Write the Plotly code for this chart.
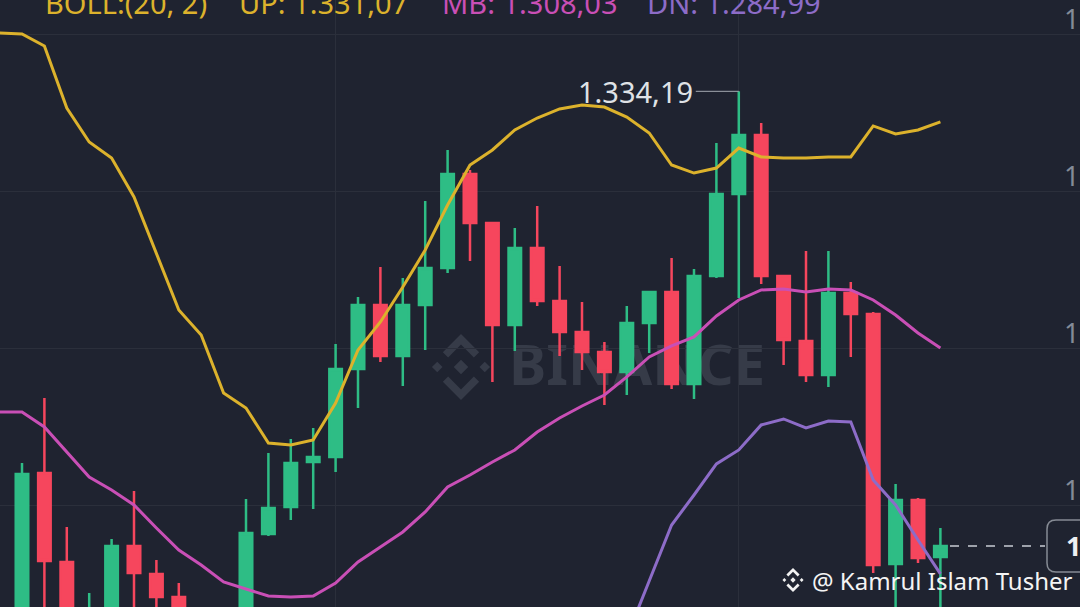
import plotly.graph_objects as go

W, H = 1080, 607

# ---------------- data ----------------
candle_idx = list(range(42))
opens = [1279.79, 1295.28, 1286.21, 1278.26, 1279.28, 1287.84, 1284.99, 1282.64, 1280.81, 1277.75,
         1280.30, 1289.06, 1291.82, 1296.40, 1296.91, 1305.88, 1312.41, 1307.21, 1312.41, 1316.18,
         1325.76, 1320.77, 1310.37, 1318.22, 1312.82, 1309.66, 1307.62, 1305.58, 1310.57, 1313.73,
         1304.36, 1315.36, 1323.72, 1329.74, 1315.36, 1308.74, 1305.27, 1313.63, 1311.49, 1286.01,
         1292.53, 1286.72]
highs = [1296.30, 1302.93, 1289.78, 1283.05, 1288.55, 1293.45, 1286.41, 1284.07, 1281.32, 1279.79,
         1292.63, 1297.32, 1298.75, 1299.87, 1308.43, 1313.22, 1316.28, 1315.16, 1323.01, 1328.21,
         1326.17, 1320.87, 1320.26, 1322.50, 1316.38, 1312.71, 1308.64, 1312.31, 1313.84, 1317.20,
         1316.08, 1328.92, 1334.19, 1330.96, 1315.36, 1317.91, 1317.91, 1314.75, 1311.69, 1294.16,
         1292.73, 1289.68]
lows = [1278.26, 1279.28, 1278.26, 1277.24, 1278.26, 1279.79, 1280.30, 1278.26, 1277.24, 1276.22,
        1279.28, 1288.86, 1290.49, 1291.61, 1295.38, 1301.91, 1306.60, 1304.15, 1307.82, 1315.67,
        1316.89, 1304.56, 1307.72, 1312.31, 1307.21, 1305.78, 1302.21, 1303.23, 1307.52, 1303.85,
        1302.83, 1315.16, 1313.12, 1314.55, 1306.29, 1304.56, 1304.05, 1307.11, 1285.09, 1279.28,
        1286.11, 1279.79]
closes = [1295.18, 1286.31, 1280.30, 1281.11, 1287.84, 1285.09, 1282.64, 1280.81, 1278.26, 1279.28,
          1289.17, 1291.71, 1296.30, 1296.91, 1305.88, 1312.41, 1307.21, 1312.41, 1316.18, 1325.76,
          1320.77, 1310.37, 1318.22, 1312.82, 1309.66, 1307.62, 1305.58, 1310.57, 1313.73, 1304.36,
          1315.36, 1323.72, 1329.74, 1315.36, 1308.84, 1305.27, 1313.63, 1311.49, 1285.90, 1292.53,
          1286.62, 1287.84]

band_idx = list(range(-1, 42))
boll_upper = [1340.14, 1340.03, 1338.81, 1332.49, 1329.02, 1327.39, 1323.42, 1317.71, 1311.90, 1309.35,
              1303.44, 1301.91, 1298.34, 1298.14, 1298.65, 1302.42, 1307.82, 1310.68, 1314.24, 1318.01,
              1322.60, 1326.68, 1328.21, 1330.25, 1331.47, 1332.39, 1332.80, 1332.59, 1331.57, 1329.94,
              1326.68, 1325.86, 1326.37, 1328.41, 1327.50, 1327.39, 1327.39, 1327.50, 1327.50, 1330.66,
              1329.84, 1330.25, 1331.07]
boll_middle = [1301.50, 1301.50, 1299.97, 1297.42, 1294.87, 1293.55, 1292.02, 1289.68, 1287.43, 1285.90,
               1284.17, 1283.46, 1282.74, 1282.64, 1282.74, 1284.07, 1286.21, 1287.74, 1289.27, 1291.31,
               1293.86, 1295.08, 1296.40, 1297.63, 1299.46, 1300.89, 1302.11, 1303.23, 1305.07, 1307.11,
               1308.23, 1309.15, 1311.29, 1312.92, 1313.94, 1314.04, 1313.73, 1314.04, 1313.94, 1312.92,
               1311.39, 1309.55, 1308.03]
lower_idx = list(range(26, 42))
boll_lower = [1273.87, 1278.56, 1284.27, 1289.98, 1293.04, 1296.20, 1297.63, 1300.18, 1300.79, 1299.87,
              1300.58, 1300.48, 1294.57, 1292.02, 1288.45, 1284.99]

y_ticks = [1292.0, 1308.0, 1324.0, 1340.0]
y_tick_labels = ["1.292,00", "1.308,00", "1.324,00", "1.340,00"]
x_grid = [14, 32]

header_texts = ["BOLL:(20, 2)", "UP: 1.331,07", "MB: 1.308,03", "DN: 1.284,99"]
high_label = "1.334,19"
last_label = "1.287,84"
watermark_text = "BINANCE"
author_text = "@ Kamrul Islam Tusher"

# ---------------- style ----------------
BG = "#1f2330"
GRID = "#2b2f3b"
GREEN = "#2ebd85"
RED = "#f6465d"
GOLD = "#dcb22c"
MAGENTA = "#c94fb6"
PURPLE = "#8d6cc8"
FONT = "Noto Sans"

X_RANGE = [-22 / 22.4, (W - 22) / 22.4]
Y_RANGE = [1281.62, 1343.50]


def px(x):
    return x / W


def py(y):
    return 1 - y / H


def logo_paths(cx, cy, s):
    polys = [
        [(0, 1), (0.55, 0.45), (0.39, 0.29), (0, 0.68), (-0.39, 0.29), (-0.55, 0.45)],
        [(0, -1), (0.55, -0.45), (0.39, -0.29), (0, -0.68), (-0.39, -0.29), (-0.55, -0.45)],
        [(0, 0.22), (0.22, 0), (0, -0.22), (-0.22, 0)],
        [(-0.72, 0.16), (-0.56, 0), (-0.72, -0.16), (-0.88, 0)],
        [(0.72, 0.16), (0.56, 0), (0.72, -0.16), (0.88, 0)],
    ]
    out = []
    for poly in polys:
        pts = ["%.5f,%.5f" % (px(cx + s * u), py(cy - s * v)) for u, v in poly]
        out.append("M " + " L ".join(pts) + " Z")
    return out


fig = go.Figure()

fig.add_trace(go.Candlestick(
    x=candle_idx, open=opens, high=highs, low=lows, close=closes,
    increasing=dict(line=dict(color=GREEN, width=2.5), fillcolor=GREEN),
    decreasing=dict(line=dict(color=RED, width=2.5), fillcolor=RED),
    whiskerwidth=0, hoverinfo="skip", showlegend=False,
))
fig.add_trace(go.Scatter(x=band_idx, y=boll_upper, mode="lines",
                         line=dict(color=GOLD, width=3), hoverinfo="skip", showlegend=False))
fig.add_trace(go.Scatter(x=band_idx, y=boll_middle, mode="lines",
                         line=dict(color=MAGENTA, width=3), hoverinfo="skip", showlegend=False))
fig.add_trace(go.Scatter(x=lower_idx, y=boll_lower, mode="lines",
                         line=dict(color=PURPLE, width=3), hoverinfo="skip", showlegend=False))

shapes = []
annotations = []

# center watermark
WM = "#363b48"
for p in logo_paths(461, 367, 33):
    shapes.append(dict(type="path", path=p, xref="paper", yref="paper",
                       fillcolor=WM, line=dict(width=0), layer="between"))
shapes.append(dict(type="rect", xref="paper", yref="paper",
                   x0=px(506), x1=px(800), y0=py(392), y1=py(342),
                   line=dict(width=0), fillcolor="rgba(0,0,0,0)", layer="between",
                   label=dict(text=watermark_text, textposition="middle left", padding=0,
                              font=dict(family=FONT, size=56, color=WM, weight="bold"))))

# header
header_colors = [GOLD, GOLD, MAGENTA, PURPLE]
header_x = [43, 237, 440, 645]
for t, c, x in zip(header_texts, header_colors, header_x):
    annotations.append(dict(text=t, xref="paper", yref="paper", x=px(x), y=py(2),
                            xanchor="left", yanchor="middle", showarrow=False,
                            font=dict(family=FONT, size=29, color=c)))

# right axis labels (cut by the edge)
for v, t in zip(y_ticks, y_tick_labels):
    annotations.append(dict(text=t, xref="paper", yref="y", x=px(1062), y=v,
                            xanchor="left", yanchor="middle", yshift=16, showarrow=False,
                            font=dict(family=FONT, size=27, color="#848b97")))

# high marker
hi_i = max(range(len(highs)), key=lambda i: highs[i])
LABEL_GAP = 1.92
shapes.append(dict(type="line", xref="x", yref="y", x0=hi_i - LABEL_GAP, x1=hi_i,
                   y0=highs[hi_i], y1=highs[hi_i], line=dict(color="#a3a8b0", width=1)))
annotations.append(dict(text=high_label, xref="x", yref="y", x=hi_i - LABEL_GAP, y=highs[hi_i],
                        xanchor="right", yanchor="middle", showarrow=False, xshift=-1,
                        font=dict(family=FONT, size=29, color="#dfe2e6")))

# last price
last = closes[-1]
shapes.append(dict(type="line", xref="paper", yref="y", x0=px(950), x1=px(1045),
                   y0=last, y1=last, line=dict(color="#c9cdd3", width=1.5, dash="dash")))
ly = (Y_RANGE[1] - last) / (Y_RANGE[1] - Y_RANGE[0]) * H
x0b, x1b, y0b, y1b, r = 1047, 1120, ly - 26, ly + 26, 9
box = ("M %f,%f L %f,%f Q %f,%f %f,%f L %f,%f Q %f,%f %f,%f L %f,%f Z" % (
    px(x1b), py(y0b), px(x0b + r), py(y0b), px(x0b), py(y0b), px(x0b), py(y0b + r),
    px(x0b), py(y1b - r), px(x0b), py(y1b), px(x0b + r), py(y1b), px(x1b), py(y1b)))
shapes.append(dict(type="path", path=box, xref="paper", yref="paper",
                   fillcolor=BG, line=dict(color="#868b94", width=1.5)))
annotations.append(dict(text=last_label, xref="paper", yref="y", x=px(1064), y=last,
                        xanchor="left", yanchor="middle", showarrow=False,
                        font=dict(family=FONT, size=27, color="#eef0f3", weight="bold")))

# author watermark
for p in logo_paths(793, 580, 12):
    shapes.append(dict(type="path", path=p, xref="paper", yref="paper",
                       fillcolor="#f2f2f2", line=dict(width=0)))
annotations.append(dict(text=author_text, xref="paper", yref="paper", x=px(810), y=py(580),
                        xanchor="left", yanchor="middle", showarrow=False,
                        font=dict(family=FONT, size=24, color="#f4f4f4")))

fig.update_layout(
    width=W, height=H,
    margin=dict(l=0, r=0, t=0, b=0),
    paper_bgcolor=BG, plot_bgcolor=BG,
    showlegend=False,
    boxgap=0.2,
    shapes=shapes, annotations=annotations,
    xaxis=dict(range=X_RANGE, tickvals=x_grid, showticklabels=False, showgrid=True,
               gridcolor=GRID, gridwidth=1, zeroline=False, showline=False,
               rangeslider=dict(visible=False), fixedrange=True),
    yaxis=dict(range=Y_RANGE, tickvals=y_ticks, showticklabels=False, showgrid=True,
               gridcolor=GRID, gridwidth=1, zeroline=False, showline=False, fixedrange=True),
)

fig.write_html("out.html", config={"displayModeBar": False, "staticPlot": True},
               post_script="document.body.style.margin='0';document.body.style.overflow='hidden';")
